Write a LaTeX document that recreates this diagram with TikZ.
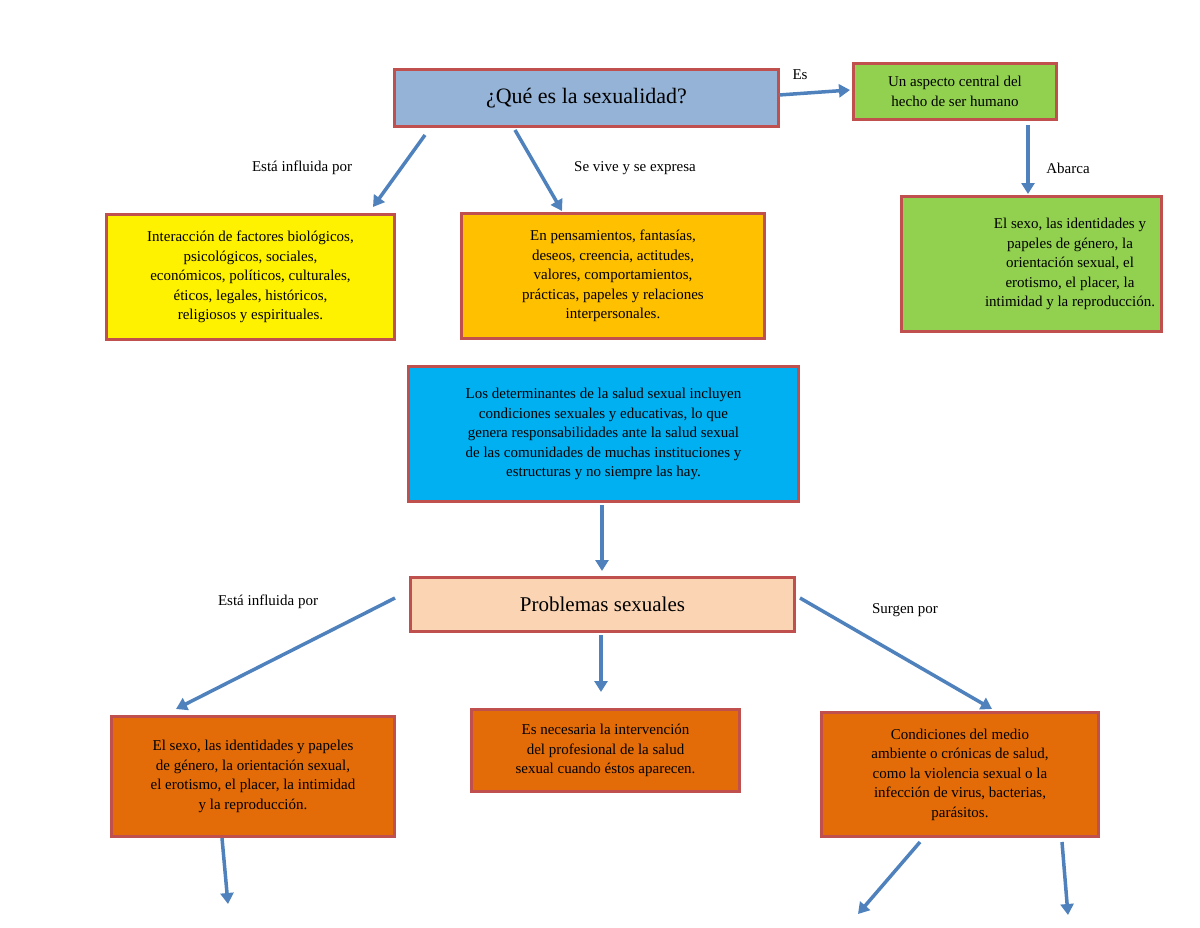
\documentclass[tikz,border=0pt]{standalone}
\usepackage{fontspec}
\setmainfont{Liberation Serif}
\usetikzlibrary{arrows.meta}
\definecolor{boxred}{HTML}{C0504D}
\definecolor{arrblue}{HTML}{4F81BD}
\definecolor{qblue}{HTML}{95B3D7}
\definecolor{lgreen}{HTML}{92D050}
\definecolor{gold}{HTML}{FFC000}
\definecolor{sky}{HTML}{00B0F0}
\definecolor{peach}{HTML}{FBD4B4}
\definecolor{dorange}{HTML}{E36C09}
\tikzset{
  box/.style={draw=boxred, line width=3pt, anchor=north west, inner sep=0pt},
  txt/.style={align=center, font=\fontsize{15}{19.5}\selectfont},
  lbl/.style={font=\fontsize{15}{18}\selectfont},
  arr/.style={draw=arrblue, line width=3.5pt, -{Triangle[length=11pt,width=13pt]}}
}
\begin{document}
\begin{tikzpicture}[x=1pt,y=-1pt]
\useasboundingbox (0,0) rectangle (1200,927);
% boxes
\node[box, fill=qblue, minimum width=384pt, minimum height=57pt] (q) at (393,68) {};
\node[font=\fontsize{22}{24}\selectfont] at (q.center) {¿Qué es la sexualidad?};
\node[box, fill=lgreen, minimum width=203pt, minimum height=56pt] (aspect) at (852,62) {};
\node[txt] at (aspect.center) {Un aspecto central del\\hecho de ser humano};
\node[box, fill=yellow, minimum width=288pt, minimum height=125pt] (infl) at (105,213) {};
\node[txt] at (infl.center) {Interacción de factores biológicos,\\psicológicos, sociales,\\económicos, políticos, culturales,\\éticos, legales, históricos,\\religiosos y espirituales.};
\node[box, fill=gold, minimum width=303pt, minimum height=125pt] (pens) at (460,212) {};
\node[txt] at (pens.center) {En pensamientos, fantasías,\\deseos, creencia, actitudes,\\valores, comportamientos,\\prácticas, papeles y relaciones\\interpersonales.};
\node[box, fill=lgreen, minimum width=260pt, minimum height=135pt] (sexo) at (900,195) {};
\node[txt] at (1070,264) {El sexo, las identidades y\\papeles de género, la\\orientación sexual, el\\erotismo, el placer, la\\intimidad y la reproducción.};
\node[box, fill=sky, minimum width=390pt, minimum height=135pt] (det) at (407,365) {};
\node[txt] at (det.center) {Los determinantes de la salud sexual incluyen\\condiciones sexuales y educativas,  lo que\\genera responsabilidades ante la salud sexual\\de las comunidades de muchas instituciones y\\estructuras y no siempre las hay.};
\node[box, fill=peach, minimum width=384pt, minimum height=54pt] (prob) at (409,576) {};
\node[font=\fontsize{21}{24}\selectfont] at (prob.center) {Problemas sexuales};
\node[box, fill=dorange, minimum width=283pt, minimum height=120pt] (b1) at (110,715) {};
\node[txt] at (b1.center) {El sexo, las identidades y papeles\\de género, la orientación sexual,\\el erotismo, el placer, la intimidad\\y la reproducción.};
\node[box, fill=dorange, minimum width=268pt, minimum height=82pt] (b2) at (470,708) {};
\node[txt] at (b2.center) {Es necesaria la intervención\\del profesional de la salud\\sexual cuando éstos aparecen.};
\node[box, fill=dorange, minimum width=277pt, minimum height=124pt] (b3) at (820,711) {};
\node[txt] at (b3.center) {Condiciones del medio\\ambiente o crónicas de salud,\\como la violencia sexual o la\\infección de virus, bacterias,\\parásitos.};
% labels
\node[lbl] (lEs) at (800,75) {Es};
\node[lbl] (lInfl) at (302,168) {Está influida por};
\node[lbl] (lVive) at (635,168) {Se vive y se expresa};
\node[lbl] (lAbarca) at (1068,168) {Abarca};
\node[lbl] (lInfl2) at (268,602) {Está influida por};
\node[lbl] (lSurgen) at (905,610) {Surgen por};
% arrow ends
\coordinate (a1) at (779,95);  \coordinate (a1e) at (850,90);
\coordinate (a2) at (425,135); \coordinate (a2e) at (373,207);
\coordinate (a3) at (515,130); \coordinate (a3e) at (562,211);
\coordinate (a4) at (1028,125); \coordinate (a4e) at (1028,194);
\coordinate (a5) at (602,505); \coordinate (a5e) at (602,571);
\coordinate (a6) at (395,598); \coordinate (a6e) at (176,709);
\coordinate (a7) at (800,598); \coordinate (a7e) at (992,709);
\coordinate (a8) at (601,635); \coordinate (a8e) at (601,692);
\coordinate (a9) at (222,838); \coordinate (a9e) at (228,904);
\coordinate (a10) at (920,842); \coordinate (a10e) at (858,914);
\coordinate (a11) at (1062,842); \coordinate (a11e) at (1068,915);
\foreach \s/\e in {a1/a1e,a2/a2e,a3/a3e,a4/a4e,a5/a5e,a6/a6e,a7/a7e,a8/a8e,a9/a9e,a10/a10e,a11/a11e}
  \draw[arr] (\s) -- (\e);
\end{tikzpicture}
\end{document}
